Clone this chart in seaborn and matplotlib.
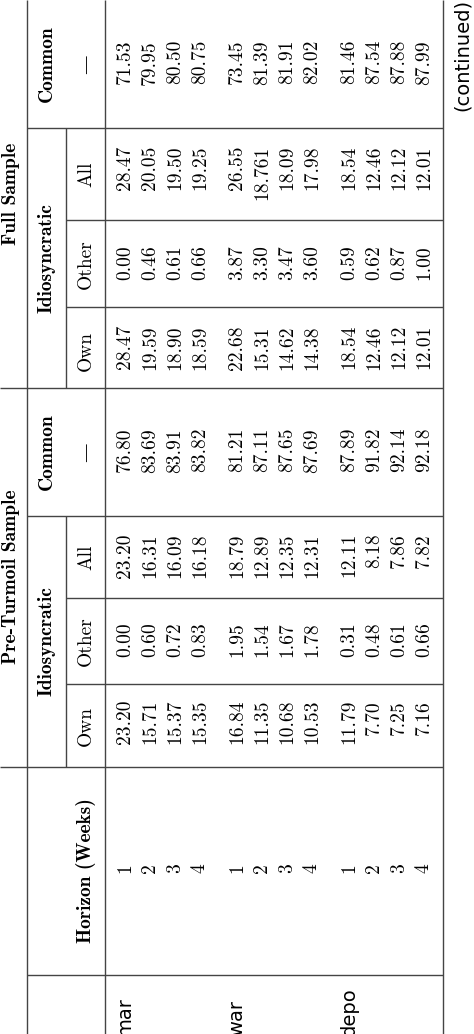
import matplotlib
matplotlib.use("Agg")
import matplotlib.pyplot as plt
import seaborn as sns

# ===============================
# Data (table rotated 90 degrees on the page)
# ===============================
groups = ["mar", "war", "depo"]
horizons = [1, 2, 3, 4]

pre_own = [23.20, 15.71, 15.37, 15.35, 16.84, 11.35, 10.68, 10.53, 11.79, 7.70, 7.25, 7.16]
pre_other = [0.00, 0.60, 0.72, 0.83, 1.95, 1.54, 1.67, 1.78, 0.31, 0.48, 0.61, 0.66]
pre_all = [23.20, 16.31, 16.09, 16.18, 18.79, 12.89, 12.35, 12.31, 12.11, 8.18, 7.86, 7.82]
pre_common = [76.80, 83.69, 83.91, 83.82, 81.21, 87.11, 87.65, 87.69, 87.89, 91.82, 92.14, 92.18]
full_own = [28.47, 19.59, 18.90, 18.59, 22.68, 15.31, 14.62, 14.38, 18.54, 12.46, 12.12, 12.01]
full_other = [0.00, 0.46, 0.61, 0.66, 3.87, 3.30, 3.47, 3.60, 0.59, 0.62, 0.87, 1.00]
full_all = ["28.47", "20.05", "19.50", "19.25", "26.55", "18.761", "18.09", "17.98",
            "18.54", "12.46", "12.12", "12.01"]
full_common = [71.53, 79.95, 80.50, 80.75, 73.45, 81.39, 81.91, 82.02, 81.46, 87.54, 87.88, 87.99]

sns.set_theme(style="white")
plt.rcParams["axes.unicode_minus"] = False

fig = plt.figure(figsize=(4.74, 10.34), dpi=100)
ax = fig.add_axes([0, 0, 1, 1])
ax.set_xlim(0, 474)
ax.set_ylim(1034, 0)
ax.axis("off")

FS = 14
rm = dict(family="cmr10", fontsize=FS, rotation=90, color="black")
bf = dict(family="cmb10", fontsize=FS, rotation=90, color="black")
it = dict(family="cmti10", fontsize=FS, rotation=90, color="black")

lw = 1.0
lc = "#444444"
# table rules
ax.vlines([27, 105, 443], 0, 1034, color=lc, lw=lw)
ax.vlines([66, 66], [128, 516], [388, 767], color=lc, lw=lw)
ax.hlines([388, 767], 0, 443, color=lc, lw=lw)
ax.hlines([128, 516, 975], 27, 443, color=lc, lw=lw)
ax.hlines([220, 307, 598, 684], 66, 443, color=lc, lw=lw)

# headers
ax.text(11, 194, "Full Sample", ha="center", va="center", **bf)
ax.text(11, 577, "Pre-Turmoil Sample", ha="center", va="center", **bf)
ax.text(47, 258, "Idiosyncratic", ha="center", va="center", **bf)
ax.text(47, 641, "Idiosyncratic", ha="center", va="center", **bf)
ax.text(47, 64, "Common", ha="center", va="center", **bf)
ax.text(47, 452, "Common", ha="center", va="center", **bf)
ax.text(86, 871, "Horizon (Weeks)", ha="center", va="center", **bf)

sub_y = {"Own": [351, 726], "Other": [264, 641], "All": [174, 557]}
for lab, ys in sub_y.items():
    for y in ys:
        ax.text(86, y, lab, ha="center", va="center", **rm)
for y in [64, 452]:
    ax.text(86, y, "\u2014", ha="center", va="center", family="DejaVu Serif",
            fontsize=FS, rotation=90, color="black")

# data rows
row_x = [125, 150, 175, 200, 237, 262, 287, 312, 349, 374, 399, 424]
cols = [
    (full_common, 40), (full_all, 146), (full_other, 245), (full_own, 325),
    (pre_common, 428), (pre_all, 533), (pre_other, 622), (pre_own, 700),
]
for vals, ytop in cols:
    for x, v in zip(row_x, vals):
        s = v if isinstance(v, str) else f"{v:.2f}"
        ax.text(x, ytop, s, ha="center", va="top", **rm)

for i, x in enumerate(row_x):
    ax.text(x, 868, str(horizons[i % 4]), ha="center", va="center", **rm)

for g, x in zip(groups, [row_x[0], row_x[4], row_x[8]]):
    ax.text(x, 1036, g, ha="center", va="bottom", **it)

ax.text(462, 55, "(continued)", ha="center", va="center", **it)

fig.savefig("out.png", dpi=100)
